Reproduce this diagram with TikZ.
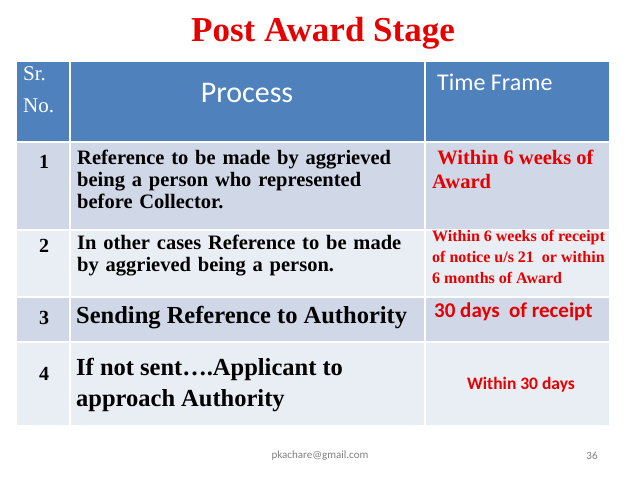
\documentclass[tikz,border=0pt]{standalone}
\usepackage{fontspec}
\setmainfont{Liberation Serif}
\newfontfamily\calibri{Carlito}
\usetikzlibrary{positioning}
\definecolor{hdblue}{RGB}{79,129,189}
\definecolor{rowdark}{RGB}{208,216,232}
\definecolor{rowlight}{RGB}{233,237,244}
\definecolor{slidered}{RGB}{230,0,0}
\tikzset{
  cell/.style={anchor=north west,inner sep=0pt,align=left},
  procbox/.style={cell,font=\fontsize{20.5}{22}\selectfont\bfseries,text width=350pt},
  redtime/.style={cell,text=slidered,font=\fontsize{20.5}{24}\selectfont\bfseries}
}
\begin{document}
\begin{tikzpicture}[x=1pt,y=-1pt]
\useasboundingbox (0,0) rectangle (638,478);
\fill[white] (0,0) rectangle (638,478);
% Title
\node (title) at (323,33) {\fontsize{35}{38}\selectfont\bfseries\color{slidered}Post Award Stage};
% Row backgrounds
\fill[hdblue] (17,62) rectangle (609,142);
\fill[rowdark] (17,142) rectangle (609,230);
\fill[rowlight] (17,230) rectangle (609,297);
\fill[rowdark] (17,297) rectangle (609,342);
\fill[rowlight] (17,342) rectangle (609,425);
% Grid
\foreach \y in {142,230,297,342} \draw[white,line width=1.5pt] (17,\y) -- (609,\y);
\foreach \x in {70,425} \draw[white,line width=1.5pt] (\x,62) -- (\x,425);
% Header
\node[cell,text=white,font=\fontsize{21}{32}\selectfont] (srno) at (23,66) {Sr.\\No.};
\node[text=white,font=\calibri\fontsize{30}{32}\selectfont] (process) at (247,93) {Process};
\node[cell,text=white,font=\calibri\fontsize{24}{26}\selectfont] (timeframe) at (437,74) {Time Frame};
% Row numbers
\foreach \n/\y in {1/162,2/246,3/318,4/374}
  \node[font=\fontsize{20}{22}\selectfont\bfseries] (num\n) at (44,\y) {\n};
% Processes
\node[procbox] (proc1) at (77,150) {Reference to be made by aggrieved\\being a person who represented\\before Collector.};
\node[procbox] (proc2) at (77,235) {In other cases Reference to be made\\by aggrieved being a person.};
\node[cell,font=\fontsize{24.5}{26}\selectfont\bfseries] (proc3) at (76,306) {Sending Reference to Authority};
\node[cell,font=\fontsize{24.5}{31}\selectfont\bfseries] (proc4) at (76,358) {If not sent\dots.Applicant to\\approach Authority};
% Time frames
\node[redtime] (time1) at (432,150) {\ Within 6 weeks of\\Award};
\node[cell,text=slidered,font=\fontsize{16}{21}\selectfont\bfseries] (time2) at (432,230) {Within 6 weeks of receipt\\of notice u/s 21\ \ or within\\6 months of Award};
\node[cell,text=slidered,font=\calibri\fontsize{21}{24}\selectfont\bfseries] (time3) at (434,303) {30 days\ \ of receipt};
\node[text=slidered,font=\calibri\fontsize{17.5}{20}\selectfont\bfseries] (time4) at (521,385) {Within 30 days};
% Footer
\node[text=gray,font=\calibri\fontsize{11}{13}\selectfont] (mail) at (320,456) {pkachare@gmail.com};
\node[text=gray,font=\calibri\fontsize{11}{13}\selectfont] (page) at (592,456) {36};
\end{tikzpicture}
\end{document}
